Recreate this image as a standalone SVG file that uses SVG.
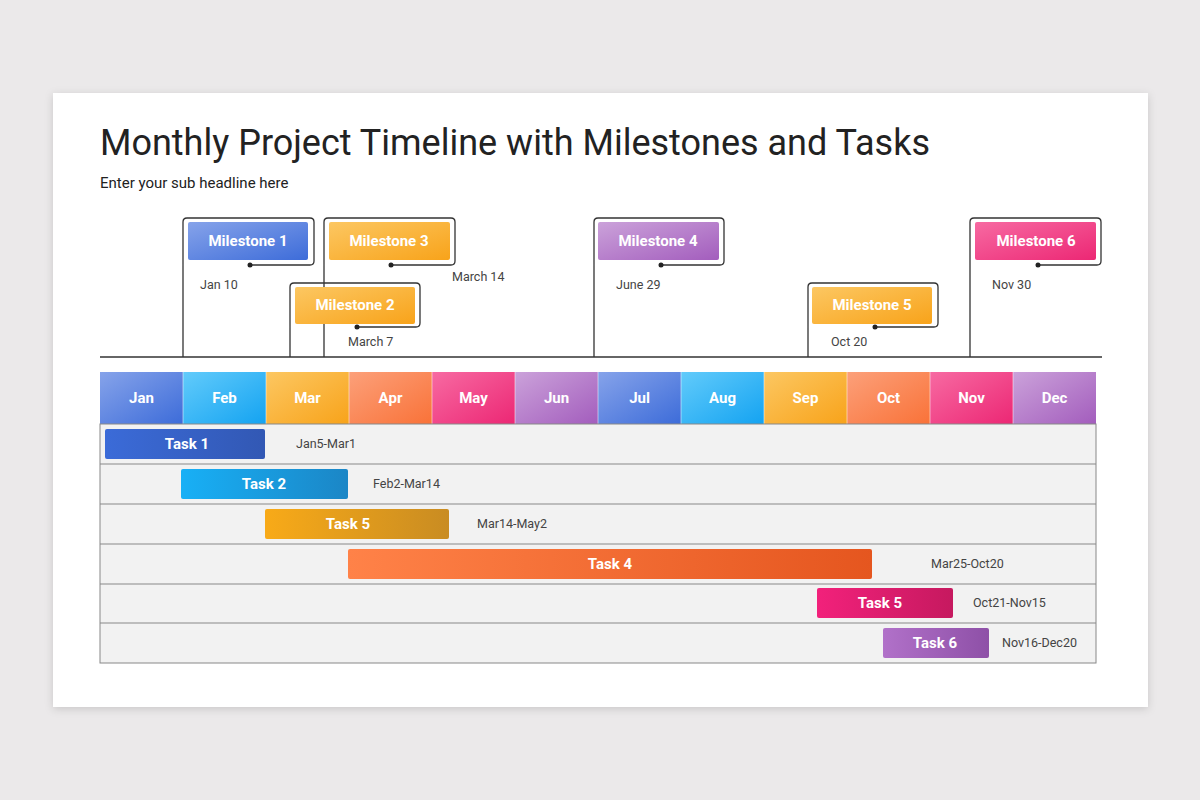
<svg xmlns="http://www.w3.org/2000/svg" width="1200" height="800" viewBox="0 0 1200 800">
<defs>
<linearGradient id="gB" x1="0" y1="0" x2="1" y2="1"><stop offset="0" stop-color="#86a3ea"/><stop offset="1" stop-color="#3d6cd9"/></linearGradient>
<linearGradient id="gC" x1="0" y1="0" x2="1" y2="1"><stop offset="0" stop-color="#62cbfb"/><stop offset="1" stop-color="#14a3f1"/></linearGradient>
<linearGradient id="gY" x1="0" y1="0" x2="1" y2="1"><stop offset="0" stop-color="#fcc762"/><stop offset="1" stop-color="#f8a31a"/></linearGradient>
<linearGradient id="gO" x1="0" y1="0" x2="1" y2="1"><stop offset="0" stop-color="#fca07a"/><stop offset="1" stop-color="#f97238"/></linearGradient>
<linearGradient id="gP" x1="0" y1="0" x2="1" y2="1"><stop offset="0" stop-color="#f76aa2"/><stop offset="1" stop-color="#ec2774"/></linearGradient>
<linearGradient id="gV" x1="0" y1="0" x2="1" y2="1"><stop offset="0" stop-color="#cba2da"/><stop offset="1" stop-color="#a35dbd"/></linearGradient>
<linearGradient id="t1" x1="0" y1="0" x2="1" y2="0"><stop offset="0" stop-color="#3b6bd8"/><stop offset="1" stop-color="#3258b4"/></linearGradient>
<linearGradient id="t2" x1="0" y1="0" x2="1" y2="0"><stop offset="0" stop-color="#18b0f6"/><stop offset="1" stop-color="#1b86c6"/></linearGradient>
<linearGradient id="t3" x1="0" y1="0" x2="1" y2="0"><stop offset="0" stop-color="#f8aa18"/><stop offset="1" stop-color="#c98c22"/></linearGradient>
<linearGradient id="t4" x1="0" y1="0" x2="1" y2="0"><stop offset="0" stop-color="#ff8248"/><stop offset="1" stop-color="#e5561f"/></linearGradient>
<linearGradient id="t5" x1="0" y1="0" x2="1" y2="0"><stop offset="0" stop-color="#f2217b"/><stop offset="1" stop-color="#c6195f"/></linearGradient>
<linearGradient id="t6" x1="0" y1="0" x2="1" y2="0"><stop offset="0" stop-color="#b171c9"/><stop offset="1" stop-color="#8e50a7"/></linearGradient>
<filter id="sh" x="-5%" y="-5%" width="110%" height="115%"><feDropShadow dx="0" dy="2" stdDeviation="4" flood-color="#000" flood-opacity="0.15"/></filter>
</defs>
<style>
text{font-family:Roboto,"Liberation Sans",sans-serif}
.wl{fill:#fff;font-weight:bold;font-size:15px;text-anchor:middle}
.dl{fill:#444;font-size:12.5px}
.ol{fill:none;stroke:#333;stroke-width:1.3}
.row{fill:none;stroke:#888;stroke-width:1}
</style>
<rect width="1200" height="800" fill="#ebe9ea"/>
<rect x="53" y="93" width="1095" height="614" fill="#fff" filter="url(#sh)"/>
<text x="100" y="155" font-size="36" fill="#222">Monthly Project Timeline with Milestones and Tasks</text>
<text x="100" y="188" font-size="15" fill="#222">Enter your sub headline here</text>

<g id="connectors">
<line x1="100" y1="357" x2="1102" y2="357" stroke="#333" stroke-width="1.3"/>
<path class="ol" d="M250,265 H310 q4,0 4,-4 V222 q0,-4 -4,-4 H187 q-4,0 -4,4 V357"/>
<path class="ol" d="M391,265 H451 q4,0 4,-4 V222 q0,-4 -4,-4 H328 q-4,0 -4,4 V357"/>
<path class="ol" d="M357,327 H416 q4,0 4,-4 V287 q0,-4 -4,-4 H294 q-4,0 -4,4 V357"/>
<path class="ol" d="M661,265 H720 q4,0 4,-4 V222 q0,-4 -4,-4 H598 q-4,0 -4,4 V357"/>
<path class="ol" d="M875,327 H934 q4,0 4,-4 V287 q0,-4 -4,-4 H812 q-4,0 -4,4 V357"/>
<path class="ol" d="M1038,265 H1097 q4,0 4,-4 V222 q0,-4 -4,-4 H974 q-4,0 -4,4 V357"/>
<g fill="#222"><circle cx="250" cy="265" r="2.5"/><circle cx="391" cy="265" r="2.5"/><circle cx="357" cy="327" r="2.5"/><circle cx="661" cy="265" r="2.5"/><circle cx="875" cy="327" r="2.5"/><circle cx="1038" cy="265" r="2.5"/></g>
</g>

<g id="m1"><rect x="188" y="222" width="120" height="38" rx="2" fill="url(#gB)"/><text class="wl" x="248" y="246">Milestone 1</text><text class="dl" x="200" y="289">Jan 10</text></g>
<g id="m3"><rect x="329" y="222" width="121" height="38" rx="2" fill="url(#gY)"/><text class="wl" x="389" y="246">Milestone 3</text><text class="dl" x="452" y="281">March 14</text></g>
<g id="m2"><rect x="295" y="287" width="120" height="37" rx="2" fill="url(#gY)"/><text class="wl" x="355" y="310">Milestone 2</text><text class="dl" x="348" y="346">March 7</text></g>
<g id="m4"><rect x="598" y="222" width="121" height="38" rx="2" fill="url(#gV)"/><text class="wl" x="658" y="246">Milestone 4</text><text class="dl" x="616" y="289">June 29</text></g>
<g id="m5"><rect x="812" y="287" width="120" height="37" rx="2" fill="url(#gY)"/><text class="wl" x="872" y="310">Milestone 5</text><text class="dl" x="831" y="346">Oct 20</text></g>
<g id="m6"><rect x="975" y="222" width="121" height="38" rx="2" fill="url(#gP)"/><text class="wl" x="1036" y="246">Milestone 6</text><text class="dl" x="992" y="289">Nov 30</text></g>

<g id="months">
<rect x="100" y="372" width="83" height="52" fill="url(#gB)"/><text class="wl" x="141.5" y="403">Jan</text>
<rect x="183" y="372" width="83" height="52" fill="url(#gC)"/><text class="wl" x="224.5" y="403">Feb</text>
<rect x="266" y="372" width="83" height="52" fill="url(#gY)"/><text class="wl" x="307.5" y="403">Mar</text>
<rect x="349" y="372" width="83" height="52" fill="url(#gO)"/><text class="wl" x="390.5" y="403">Apr</text>
<rect x="432" y="372" width="83" height="52" fill="url(#gP)"/><text class="wl" x="473.5" y="403">May</text>
<rect x="515" y="372" width="83" height="52" fill="url(#gV)"/><text class="wl" x="556.5" y="403">Jun</text>
<rect x="598" y="372" width="83" height="52" fill="url(#gB)"/><text class="wl" x="639.5" y="403">Jul</text>
<rect x="681" y="372" width="83" height="52" fill="url(#gC)"/><text class="wl" x="722.5" y="403">Aug</text>
<rect x="764" y="372" width="83" height="52" fill="url(#gY)"/><text class="wl" x="805.5" y="403">Sep</text>
<rect x="847" y="372" width="83" height="52" fill="url(#gO)"/><text class="wl" x="888.5" y="403">Oct</text>
<rect x="930" y="372" width="83" height="52" fill="url(#gP)"/><text class="wl" x="971.5" y="403">Nov</text>
<rect x="1013" y="372" width="83" height="52" fill="url(#gV)"/><text class="wl" x="1054.5" y="403">Dec</text>
<g stroke="#fff" stroke-opacity="0.5"><line x1="183" y1="372" x2="183" y2="424"/><line x1="266" y1="372" x2="266" y2="424"/><line x1="349" y1="372" x2="349" y2="424"/><line x1="432" y1="372" x2="432" y2="424"/><line x1="515" y1="372" x2="515" y2="424"/><line x1="598" y1="372" x2="598" y2="424"/><line x1="681" y1="372" x2="681" y2="424"/><line x1="764" y1="372" x2="764" y2="424"/><line x1="847" y1="372" x2="847" y2="424"/><line x1="930" y1="372" x2="930" y2="424"/><line x1="1013" y1="372" x2="1013" y2="424"/></g>
</g>

<g id="grid">
<rect x="100" y="424" width="996" height="239" fill="#f2f2f2" stroke="#888"/>
<g stroke="#888"><line x1="100" y1="464" x2="1096" y2="464"/><line x1="100" y1="504" x2="1096" y2="504"/><line x1="100" y1="544" x2="1096" y2="544"/><line x1="100" y1="584" x2="1096" y2="584"/><line x1="100" y1="623" x2="1096" y2="623"/></g>
</g>

<g id="task1"><rect x="105" y="429" width="160" height="30" rx="2" fill="url(#t1)"/><text class="wl" x="187" y="449">Task 1</text><text class="dl" x="296" y="448">Jan5-Mar1</text></g>
<g id="task2"><rect x="181" y="469" width="167" height="30" rx="2" fill="url(#t2)"/><text class="wl" x="264" y="489">Task 2</text><text class="dl" x="373" y="488">Feb2-Mar14</text></g>
<g id="task5a"><rect x="265" y="509" width="184" height="30" rx="2" fill="url(#t3)"/><text class="wl" x="348" y="529">Task 5</text><text class="dl" x="477" y="528">Mar14-May2</text></g>
<g id="task4"><rect x="348" y="549" width="524" height="30" rx="2" fill="url(#t4)"/><text class="wl" x="610" y="569">Task 4</text><text class="dl" x="931" y="568">Mar25-Oct20</text></g>
<g id="task5b"><rect x="817" y="588" width="136" height="30" rx="2" fill="url(#t5)"/><text class="wl" x="880" y="608">Task 5</text><text class="dl" x="973" y="607">Oct21-Nov15</text></g>
<g id="task6"><rect x="883" y="628" width="106" height="30" rx="2" fill="url(#t6)"/><text class="wl" x="935" y="648">Task 6</text><text class="dl" x="1002" y="647">Nov16-Dec20</text></g>
</svg>
